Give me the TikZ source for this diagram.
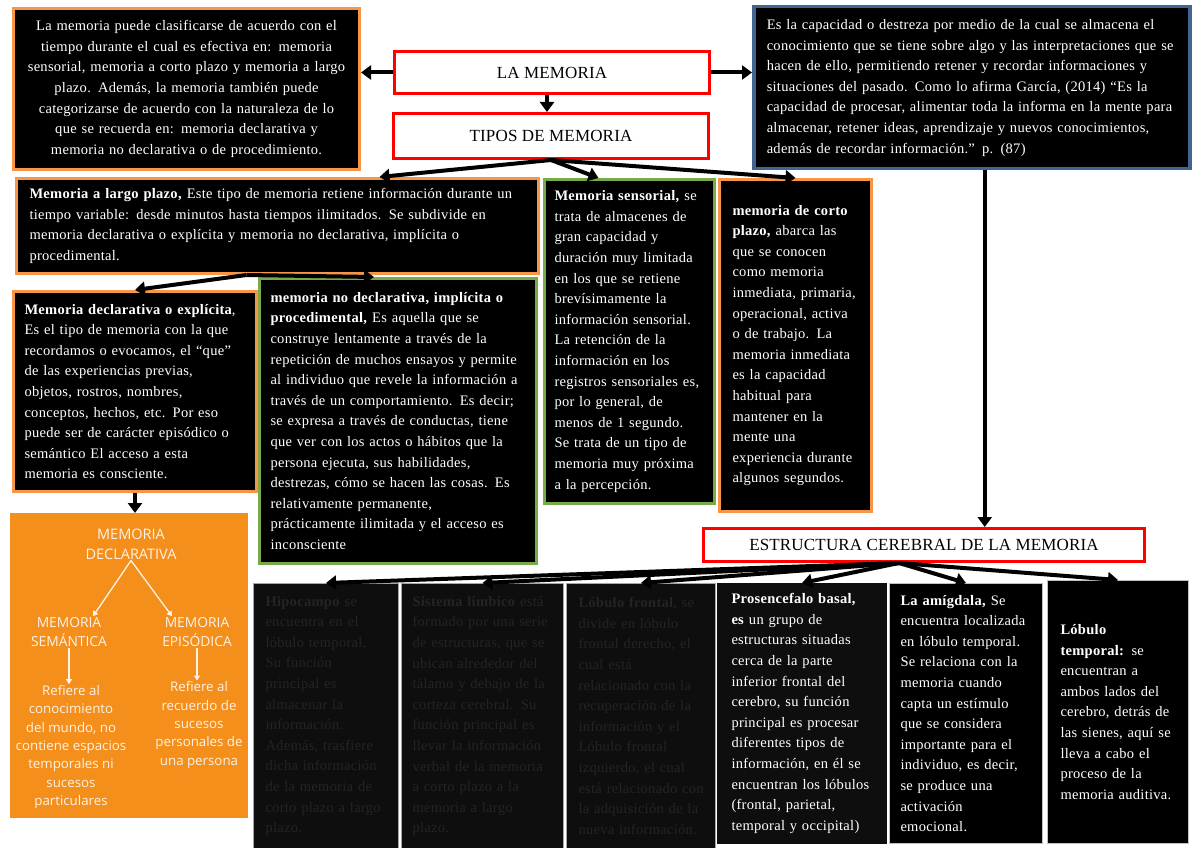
\documentclass[tikz,border=0pt]{standalone}
\usepackage{fontspec}
\setmainfont{Liberation Serif}[LetterSpace=2]
\newfontfamily\osans{Open Sans}
\newfontfamily\tfont{Liberation Serif}[LetterSpace=1]
\usetikzlibrary{arrows.meta,calc}
\definecolor{borange}{RGB}{247,150,70}
\definecolor{bgreen}{RGB}{119,170,72}
\definecolor{bblue}{RGB}{65,100,145}
\definecolor{bred}{RGB}{255,0,0}
\definecolor{forange}{RGB}{243,143,26}
\definecolor{ltxt}{RGB}{255,242,232}
\definecolor{dfill}{RGB}{14,14,14}
\definecolor{dtxt}{RGB}{36,36,36}
\newcommand\bodyfs{\fontsize{14.5}{20.6}\selectfont}
\begin{document}
\begin{tikzpicture}[x=1pt,y=-1pt,
  box/.style={rectangle, anchor=north west, inner ysep=0pt, font=\bodyfs, align=left},
  dk/.style={box, fill=black, text=white, line width=3pt},
  ob/.style={dk, draw=borange},
  gb/.style={dk, draw=bgreen},
  bb/.style={dk, draw=bblue, line width=3.5pt},
  tb/.style={rectangle, anchor=north west, draw=bred, line width=3pt, fill=white, font=\tfont\fontsize{17}{20}\selectfont},
  sb/.style={box, fill=dfill, text=dtxt, draw=gray!70, line width=1pt},
  wb/.style={box, fill=black, text=white, draw=gray!50, line width=1pt},
  arr/.style={line width=4pt, -{Triangle[length=10pt,width=14pt]}},
  warr/.style={draw=ltxt, line width=1.3pt, -{Triangle[length=5pt,width=6pt]}},
  ot/.style={text=ltxt, inner sep=1pt, align=center, font=\osans\fontsize{13.8}{19}\selectfont},
  otb/.style={text=ltxt, inner sep=1pt, align=center, font=\osans\fontsize{13.3}{18.3}\selectfont}]
\useasboundingbox (0,0) rectangle (1200,848);
\fill[white] (0,0) rectangle (1200,848);

% top row
\node[ob, minimum width=346pt, minimum height=161pt, inner xsep=6pt, text width=334pt, align=center] (A) at (12,7)
{La memoria puede clasificarse de acuerdo con el\\
tiempo durante el cual es efectiva en: memoria\\
sensorial, memoria a corto plazo y memoria a largo\\
plazo. Además, la memoria también puede\\
categorizarse de acuerdo con la naturaleza de lo\\
que se recuerda en: memoria declarativa y\\
memoria no declarativa o de procedimiento.};

\node[bb, minimum width=436pt, minimum height=162pt, inner xsep=13pt, text width=410pt] (B) at (752,5)
{Es la capacidad o destreza por medio de la cual se almacena el\\
conocimiento que se tiene sobre algo y las interpretaciones que se\\
hacen de ello, permitiendo retener y recordar informaciones y\\
situaciones del pasado. Como lo afirma García, (2014) “Es la\\
capacidad de procesar, alimentar toda la informa en la mente para\\
almacenar, retener ideas, aprendizaje y nuevos conocimientos,\\
además de recordar información.” p. (87)};

\node[tb, minimum width=315pt, minimum height=42pt] (lam) at (393,50) {LA MEMORIA};
\node[tb, minimum width=315pt, minimum height=45pt] (tipos) at (392,112) {TIPOS DE MEMORIA};

% second row
\node[ob, minimum width=522pt, minimum height=95pt, inner xsep=13pt, text width=496pt] (LP) at (15,177)
{\textbf{Memoria a largo plazo,} Este tipo de memoria retiene información durante un\\
tiempo variable: desde minutos hasta tiempos ilimitados. Se subdivide en\\
memoria declarativa o explícita y memoria no declarativa, implícita o\\
procedimental.};

\node[gb, minimum width=170pt, minimum height=324pt, inner xsep=10pt, text width=150pt] (S) at (543,178)
{\textbf{Memoria sensorial,} se\\
trata de almacenes de\\
gran capacidad y\\
duración muy limitada\\
en los que se retiene\\
brevísimamente la\\
información sensorial.\\
La retención de la\\
información en los\\
\mbox{registros sensoriales es,}\\
por lo general, de\\
menos de 1 segundo.\\
Se trata de un tipo de\\
memoria muy próxima\\
a la percepción.};

\node[ob, minimum width=152pt, minimum height=332pt, inner xsep=13pt, text width=126pt] (C) at (718,178)
{\textbf{memoria de corto}\\
\textbf{plazo,} abarca las\\
que se conocen\\
como memoria\\
inmediata, primaria,\\
operacional, activa\\
o de trabajo. La\\
memoria inmediata\\
es la capacidad\\
habitual para\\
mantener en la\\
mente una\\
\mbox{experiencia durante}\\
algunos segundos.};

% third row
\node[ob, minimum width=243pt, minimum height=200pt, inner xsep=11pt, text width=221pt] (D) at (12,290)
{\textbf{Memoria declarativa o explícita},\\
Es el tipo de memoria con la que\\
recordamos o evocamos, el “que”\\
de las experiencias previas,\\
objetos, rostros, nombres,\\
conceptos, hechos, etc. Por eso\\
puede ser de carácter episódico o\\
semántico El acceso a esta\\
memoria es consciente.};

\node[gb, minimum width=277pt, minimum height=285pt, inner xsep=11pt, text width=255pt] (N) at (258,277)
{\textbf{memoria no declarativa, implícita o}\\
\textbf{procedimental,} Es aquella que se\\
construye lentamente a través de la\\
repetición de muchos ensayos y permite\\
\mbox{al individuo que revele la información a}\\
través de un comportamiento. Es decir;\\
se expresa a través de conductas, tiene\\
que ver con los actos o hábitos que la\\
persona ejecuta, sus habilidades,\\
destrezas, cómo se hacen las cosas. Es\\
relativamente permanente,\\
prácticamente ilimitada y el acceso es\\
inconsciente};

% orange panel
\node[rectangle, anchor=north west, fill=forange, minimum width=238pt, minimum height=305pt, inner sep=0pt] (O) at (10,513) {};
\node[ot, font=\osans\fontsize{14.5}{20}\selectfont] (od) at (131,544) {MEMORIA\\DECLARATIVA};
\node[ot] (sem) at (69,632) {MEMORIA\\SEMÁNTICA};
\node[ot] (epi) at (197,632) {MEMORIA\\EPISÓDICA};
\node[otb] (r1) at (71,747) {Refiere al\\conocimiento\\del mundo, no\\contiene espacios\\temporales ni\\sucesos\\particulares};
\node[otb] (r2) at (199,725) {Refiere al\\recuerdo de\\sucesos\\personales de\\una persona};
\draw[warr] (od.south) -- ([xshift=24pt]sem.north);
\draw[warr] (od.south) -- ([xshift=-25pt]epi.north);
\draw[warr] (sem.south) -- (sem.south |- r1.north);
\draw[warr] (epi.south) -- (epi.south |- r2.north);

% estructura
\node[tb, minimum width=441pt, minimum height=33pt] (E) at (702,527) {ESTRUCTURA CEREBRAL DE LA MEMORIA};

\node[sb, minimum width=145pt, minimum height=265pt, inner xsep=12pt, text width=121pt] (H) at (253,583)
{\textbf{Hipocampo} se\\
encuentra en el\\
lóbulo temporal,\\
Su función\\
principal es\\
almacenar la\\
información.\\
Además, trasfiere\\
dicha información\\
de la memoria de\\
\mbox{corto plazo a largo}\\
plazo.};

\node[sb, minimum width=162pt, minimum height=265pt, inner xsep=11pt, text width=140pt] (L) at (401,583)
{\textbf{Sistema límbico} está\\
formado por una serie\\
de estructuras, que se\\
ubican alrededor del\\
tálamo y debajo de la\\
corteza cerebral. Su\\
función principal es\\
llevar la información\\
verbal de la memoria\\
a corto plazo a la\\
memoria a largo\\
plazo.};

\node[sb, minimum width=149pt, minimum height=265pt, inner xsep=12pt, text width=125pt] (F) at (566,583)
{\textbf{Lóbulo frontal}, se\\
divide en lóbulo\\
frontal derecho, el\\
cual está\\
relacionado con la\\
recuperación de la\\
información y el\\
Lóbulo frontal\\
izquierdo, el cual\\
\mbox{está relacionado con}\\
\mbox{la adquisición de la}\\
\mbox{nueva información.}};

\node[wb, fill=dfill, draw=dfill, minimum width=169pt, minimum height=260pt, inner xsep=14pt, text width=141pt] (P) at (717,583)
{\textbf{Prosencefalo basal,}\\
\textbf{es} un grupo de\\
estructuras situadas\\
cerca de la parte\\
inferior frontal del\\
cerebro, su función\\
principal es procesar\\
diferentes tipos de\\
información, en él se\\
\mbox{encuentran los lóbulos}\\
(frontal, parietal,\\
temporal y occipital)};

\node[wb, minimum width=153pt, minimum height=260pt, inner xsep=11pt, text width=131pt] (Am) at (889,583)
{\textbf{La amígdala,} Se\\
\mbox{encuentra localizada}\\
en lóbulo temporal.\\
Se relaciona con la\\
memoria cuando\\
capta un estímulo\\
que se considera\\
importante para el\\
individuo, es decir,\\
se produce una\\
activación\\
emocional.};

\node[wb, minimum width=141pt, minimum height=263pt, inner xsep=13pt, text width=115pt] (T) at (1047,580)
{\textbf{Lóbulo}\\
\textbf{temporal:} se\\
encuentran a\\
ambos lados del\\
\mbox{cerebro, detrás de}\\
\mbox{las sienes, aquí se}\\
lleva a cabo el\\
proceso de la\\
\mbox{memoria auditiva.}};

% connectors
\draw[arr] (lam.west) -- (lam.west -| A.east);
\draw[arr] (lam.east) -- (lam.east -| B.west);
\draw[arr] ([xshift=-5pt]lam.south) -- ([xshift=-5pt]lam.south |- tipos.north);
\draw[arr] (tipos.south) -- ([xshift=102pt]LP.north);
\draw[arr] (tipos.south) -- ([xshift=-31pt]S.north);
\draw[arr] (tipos.south) -- (C.north);
\draw[arr] ([xshift=-31pt]LP.south) -- (D.north);
\draw[arr] ([xshift=-31pt]LP.south) -- ([xshift=-24pt]N.north);
\draw[arr] (D.south) -- (D.south |- O.north);
\draw[arr] ([xshift=13pt]B.south) -- ([xshift=13pt]B.south |- E.north);
\foreach \t in {H,L,F,P,Am,T}
  \draw[arr] ([xshift=-25pt]E.south) -- (\t.north);
\end{tikzpicture}
\end{document}
